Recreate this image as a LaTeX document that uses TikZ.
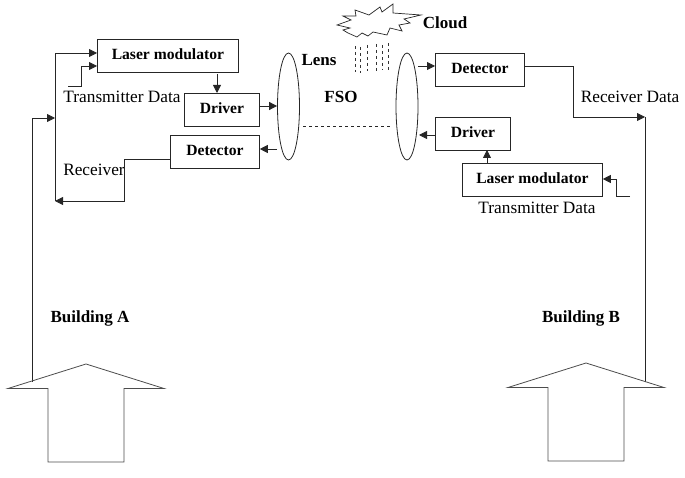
\documentclass[tikz,border=0pt]{standalone}
\usepackage{fontspec}
\setmainfont{Liberation Serif}
\usetikzlibrary{shapes.geometric,arrows.meta}
\tikzset{
  x=1pt,y=-1pt,
  boxn/.style={draw=black!85,line width=0.8pt,inner sep=0pt,font=\fontsize{15.6pt}{17pt}\selectfont\bfseries,anchor=north west,text height=10.5pt,text depth=3pt},
  lensn/.style={draw=black!85,ellipse,line width=0.8pt,inner sep=0pt,minimum width=22pt,minimum height=107pt},
  lbl/.style={inner sep=0pt,font=\fontsize{17.3pt}{19pt}\selectfont},
  blbl/.style={inner sep=0pt,font=\fontsize{17pt}{19pt}\selectfont\bfseries},
  conn/.style={draw=black!85,line width=0.8pt},
  arr/.style={conn,-{Triangle[length=8pt,width=8pt]}},
  bldg/.style={draw=black!70,line width=0.8pt},
  rain/.style={draw=black!80,line width=0.7pt,dash pattern=on 3.5pt off 2.5pt},
}
\begin{document}
\begin{tikzpicture}
\useasboundingbox (0,0) rectangle (685,478);
\node[boxn,minimum width=141pt,minimum height=33pt] (lma) at (97,39) {Laser modulator};
\node[boxn,minimum width=75pt,minimum height=33pt] (dra) at (184,93) {Driver};
\node[boxn,minimum width=89pt,minimum height=33pt] (dea) at (170,135) {Detector};
\node[lensn] (lensa) at (288.5,106.5) {};
\node[lensn] (lensb) at (407,106.5) {};
\node[boxn,minimum width=89pt,minimum height=33pt] (deb) at (435,53) {Detector};
\node[boxn,minimum width=75pt,minimum height=33pt] (drb) at (435,117) {Driver};
\node[boxn,minimum width=140pt,minimum height=33pt] (lmb) at (462,163) {Laser modulator};
\node[lbl] (t1) at (122,97) {Transmitter Data};
\node[lbl] (t2) at (94,170) {Receiver};
\node[lbl] (t3) at (537,208) {Transmitter Data};
\node[lbl] (t4) at (630,97) {Receiver Data};
\node[blbl] (l1) at (319,60) {Lens};
\node[blbl] (l2) at (341,97) {FSO};
\node[blbl] (l3) at (445,23) {Cloud};
\node[blbl] (l4) at (90,318) {Building A};
\node[blbl] (l5) at (581,318) {Building B};
% junctions
\coordinate (ja1) at (55,53);
\coordinate (ja2) at (55,201);
\coordinate (ja3) at (55,118);
\coordinate (ta) at (68,86);
\coordinate (jb) at (645,117);
\coordinate (tb) at (630,196);
% connectors
\draw[arr] (ja2) -- (ja1) -- (ja1 -| lma.west);
\draw[arr] (ta) -- (81,86) -- (81,66) -- (lma.west |- 0,66);
\draw[arr] (32,382) -- (32,118) -- (ja3);
\draw[arr] (dea.west |- 0,159) -- (124,159) -- (124,201) -- (ja2);
\draw[arr] (217,74) -- (217,93);
\draw[arr] (dra.east |- 0,106) -- (lensa.west |- 0,106);
\draw[arr] (lensa.west |- 0,149) -- (dea.east |- 0,149);
\draw[conn,dashed] (303,126) -- (390,126);
\draw[arr] (418,66) -- (deb.west |- 0,66);
\draw[arr] (drb.west |- 0,135) -- (419,135);
\draw[arr] (487,163) -- (487,150);
\draw[arr] (tb) -- (616,196) -- (616,179) -- (lmb.east |- 0,179);
\draw[arr] (deb.east |- 0,66) -- (573,66) -- (573,117) -- (jb);
\draw[conn] (jb) -- (645,382);
% cloud
\draw[draw=black!85,line width=0.7pt] (337,25) -- (351,20) -- (343,16) -- (356,16) -- (355,10) -- (369,15) -- (380,7) -- (382,12) -- (393,4) -- (393,13) -- (421,15) -- (404,19) -- (410,23) -- (399,25) -- (402,31) -- (390,28) -- (387,35) -- (373,32) -- (368,36) -- (362,33) -- (357,37) -- (348,33) -- (343,30) -- (350,28) -- cycle;
% rain
\foreach \x/\a/\b in {355/46/72,360/47/73,367/45/71,376/44/71,382/45/70,388/43/70}{
  \draw[rain] (\x,\a) -- (\x,\b);
}
% building arrows
\draw[bldg] (86,364) -- (164,388.5) -- (124,388.5) -- (124,462) -- (48,462) -- (48,388.5) -- (8,388.5) -- cycle;
\draw[bldg] (586,363) -- (664,387.5) -- (624,387.5) -- (624,461) -- (548,461) -- (548,387.5) -- (508,387.5) -- cycle;
\end{tikzpicture}
\end{document}
